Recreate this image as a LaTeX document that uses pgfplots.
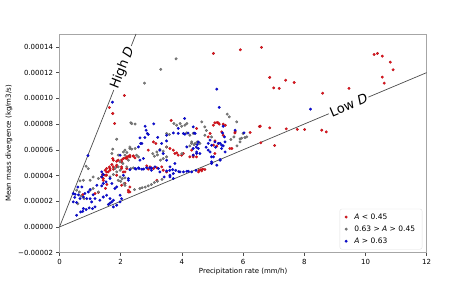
\documentclass[border=0pt]{standalone}
\usepackage{pgfplots}
\pgfplotsset{compat=1.18}
\usepackage{fontspec}
\setmainfont{DejaVu Sans}
\definecolor{mred}{RGB}{235,20,30}
\definecolor{mgray}{RGB}{128,128,128}
\definecolor{mblue}{RGB}{10,10,230}
\begin{document}
\begin{tikzpicture}
\path (-59.5pt,-31.3pt) rectangle (414.5pt,252.7pt);
\begin{axis}[
  at={(0,0)}, anchor=south west,
  scale only axis, width=367.2pt, height=218.7pt,
  xmin=0, xmax=12, ymin=-2e-5, ymax=1.5e-4,
  xtick={0,2,4,6,8,10,12},
  ytick={-2e-5,0,2e-5,4e-5,6e-5,8e-5,1e-4,1.2e-4,1.4e-4},
  yticklabels={−0.00002,0.00000,0.00002,0.00004,0.00006,0.00008,0.00010,0.00012,0.00014},
  scaled y ticks=false,
  /pgf/number format/assume math mode=true,
  xtick pos=bottom, ytick pos=left,
  tick align=outside, major tick length=3pt,
  tick style={black!70, line width=0.5pt},
  axis line style={black!35, line width=0.8pt},
  tick label style={font=\fontsize{7}{8}\selectfont},
  label style={font=\fontsize{7}{8}\selectfont},
  xlabel={Precipitation rate (mm/h)},
  ylabel={Mean mass divergence (kg/m3/s)},
  xlabel style={yshift=3pt},
  ylabel style={yshift=-1pt},
  legend cell align=left,
  legend style={at={(0.988,0.015)}, anchor=south east, draw=black!12, rounded corners=2pt,
    font=\fontsize{7.5}{9}\selectfont, inner xsep=5pt, inner ysep=2.5pt, row sep=1pt,
    /tikz/every odd column/.append style={column sep=5pt}},
]
\addplot[only marks, mark=*, mark size=1.3pt, mark options={fill=mred, draw=mred!75!black, line width=0.3pt}] coordinates {
(5.03,13.49e-5)(5.91,13.77e-5)(6.60,13.96e-5)(6.87,11.62e-5)(7.00,10.81e-5)(7.18,10.77e-5)(7.39,11.41e-5)(7.67,11.23e-5)
(8.60,10.40e-5)(9.46,10.77e-5)(10.28,13.41e-5)(10.39,13.49e-5)(10.55,13.28e-5)(10.81,12.81e-5)(10.90,12.22e-5)(10.55,11.65e-5)
(10.61,11.18e-5)(6.53,7.81e-5)(6.87,7.70e-5)(7.41,7.62e-5)(7.77,7.58e-5)(8.01,7.58e-5)(8.57,7.52e-5)(8.72,7.39e-5)
(6.23,7.34e-5)(5.63,6.10e-5)(5.73,7.31e-5)(6.58,6.54e-5)(7.03,6.33e-5)
(2.12,10.22e-5)(1.63,9.29e-5)(1.74,8.82e-5)(1.80,8.04e-5)
(3.65,8.28e-5)(5.08,8.10e-5)(5.15,8.12e-5)(5.22,7.99e-5)(5.35,7.99e-5)(5.42,7.90e-5)(5.03,7.91e-5)(5.19,8.09e-5)(4.48,7.66e-5)
(5.30,7.39e-5)(5.35,7.13e-5)(4.92,7.27e-5)(4.86,7.00e-5)
(3.07,6.61e-5)(3.15,6.49e-5)(2.90,5.97e-5)
(3.50,6.22e-5)(3.61,6.10e-5)(3.72,5.97e-5)(3.83,5.76e-5)(3.88,5.58e-5)(3.77,5.71e-5)(4.05,5.71e-5)(3.99,5.58e-5)(4.32,5.97e-5)
(5.08,6.69e-5)(5.19,6.49e-5)(5.03,6.36e-5)(5.14,6.28e-5)(5.57,6.10e-5)(5.08,5.71e-5)
(4.26,5.45e-5)(4.37,5.45e-5)(4.37,5.58e-5)(4.48,5.45e-5)
(4.56,4.40e-5)(4.62,4.45e-5)(4.68,4.50e-5)(4.75,4.47e-5)(4.54,4.28e-5)(4.65,4.36e-5)
(2.03,5.20e-5)(2.15,5.35e-5)(2.25,5.50e-5)(2.30,5.45e-5)(2.41,5.52e-5)(2.47,5.37e-5)(2.20,5.32e-5)(1.76,5.19e-5)(1.87,5.11e-5)
(1.54,4.54e-5)(1.63,4.67e-5)(1.71,4.85e-5)(2.03,4.54e-5)(2.14,4.28e-5)(2.08,4.28e-5)(2.20,4.54e-5)(2.03,4.67e-5)
(2.85,4.75e-5)(2.96,4.67e-5)(3.07,4.54e-5)(2.90,4.50e-5)(3.18,4.60e-5)(3.34,4.67e-5)(3.39,4.41e-5)(3.50,4.28e-5)
(1.41,4.08e-5)(1.54,4.02e-5)(1.87,4.02e-5)(1.43,3.77e-5)(1.59,4.28e-5)(1.49,4.41e-5)(1.65,4.54e-5)(1.76,4.49e-5)(1.87,4.67e-5)
(1.16,2.60e-5)(1.27,2.68e-5)(0.76,2.52e-5)(2.25,2.86e-5)(2.30,2.72e-5)(3.18,3.63e-5)
(1.38,3.89e-5)(1.43,3.63e-5)(1.49,4.02e-5)(1.54,4.28e-5)(1.65,4.41e-5)(1.76,4.67e-5)(1.87,4.80e-5)(1.92,5.19e-5)
(2.03,5.06e-5)(2.09,5.32e-5)(2.20,5.45e-5)(2.30,5.58e-5)(2.41,5.50e-5)(1.74,5.32e-5)(2.30,3.11e-5)(2.25,2.72e-5)
(2.03,3.24e-5)(2.14,3.38e-5)(1.50,3.00e-5)(1.55,3.30e-5)(5.74,7.39e-5)(6.56,7.83e-5)
};
\addlegendentry{\textit{A} < 0.45}
\addplot[only marks, mark=*, mark size=1.3pt, mark options={fill=mgray, draw=mgray!75!black, line width=0.3pt}] coordinates {
(3.81,13.07e-5)(3.31,12.25e-5)(2.78,11.18e-5)(2.33,8.10e-5)(2.47,8.00e-5)(2.36,8.04e-5)(0.87,4.72e-5)
(3.74,8.04e-5)(3.83,7.91e-5)(3.94,8.04e-5)(3.99,7.83e-5)(4.10,7.91e-5)(4.16,8.04e-5)(4.65,8.17e-5)(4.75,7.78e-5)
(5.48,8.77e-5)(5.55,8.56e-5)(5.79,8.17e-5)
(3.50,7.27e-5)(3.59,7.19e-5)(4.16,7.31e-5)(4.26,7.13e-5)(4.37,7.27e-5)(4.75,7.13e-5)(4.97,7.00e-5)
(4.32,6.61e-5)(4.43,6.49e-5)(4.50,6.61e-5)(4.59,6.49e-5)(4.26,6.30e-5)(4.40,6.40e-5)(4.32,6.49e-5)
(5.60,6.80e-5)(5.90,6.85e-5)(5.95,6.90e-5)(6.06,6.95e-5)(5.70,7.00e-5)(5.90,6.61e-5)(5.80,6.30e-5)(6.00,7.27e-5)(6.12,7.00e-5)
(3.50,6.22e-5)(3.18,5.83e-5)(3.28,6.02e-5)(3.39,5.90e-5)(3.05,5.70e-5)(3.10,5.50e-5)(3.20,5.60e-5)(3.30,5.19e-5)(3.39,5.32e-5)(3.50,5.45e-5)
(1.87,6.82e-5)(1.74,6.05e-5)(2.30,6.10e-5)(2.36,6.05e-5)(2.09,5.83e-5)(2.20,5.79e-5)(2.14,5.58e-5)(2.52,5.58e-5)(2.58,5.45e-5)
(1.98,5.06e-5)(2.07,4.93e-5)(2.25,5.19e-5)(1.92,4.67e-5)(1.81,4.54e-5)(2.20,4.67e-5)(2.33,4.54e-5)(2.41,4.59e-5)
(1.76,4.08e-5)(1.65,3.89e-5)(1.98,3.89e-5)(2.14,3.81e-5)(2.00,3.55e-5)(2.05,3.75e-5)(1.87,4.28e-5)(1.98,4.41e-5)(1.92,3.63e-5)
(1.00,2.86e-5)(1.10,2.99e-5)(1.27,2.72e-5)(0.56,2.86e-5)(0.65,2.72e-5)(1.10,3.89e-5)(1.00,3.63e-5)(1.27,3.77e-5)
(0.78,3.63e-5)(0.94,4.54e-5)(0.67,3.58e-5)(0.70,2.40e-5)(0.80,2.20e-5)(0.60,1.80e-5)
(2.14,3.24e-5)(2.11,3.38e-5)(2.63,2.99e-5)(2.70,3.05e-5)(2.80,3.10e-5)(2.90,3.20e-5)(3.00,3.30e-5)(3.10,3.45e-5)
(3.20,3.55e-5)(3.35,3.70e-5)(2.45,2.90e-5)
(1.71,5.71e-5)(1.92,5.58e-5)(2.14,5.97e-5)(2.30,6.22e-5)(2.47,6.10e-5)(4.80,7.50e-5)(4.00,5.70e-5)
};
\addlegendentry{0.63 > \textit{A} > 0.45}
\addplot[only marks, mark=*, mark size=1.3pt, mark options={fill=mblue, draw=mblue!75!black, line width=0.3pt}] coordinates {
(5.14,10.71e-5)(5.22,9.29e-5)(8.20,9.16e-5)(1.73,9.70e-5)(2.80,7.83e-5)(3.08,8.01e-5)(4.09,8.43e-5)(0.93,5.55e-5)
(3.88,7.66e-5)(4.05,7.27e-5)(4.20,7.30e-5)(4.40,7.30e-5)(4.37,7.78e-5)(2.87,7.27e-5)(2.79,6.96e-5)(2.63,6.92e-5)
(3.21,6.96e-5)(3.34,6.49e-5)(3.50,6.69e-5)(2.69,6.49e-5)(2.83,7.52e-5)(2.90,7.19e-5)(2.65,6.49e-5)(2.58,6.22e-5)
(1.98,5.58e-5)(2.74,5.32e-5)(2.63,5.19e-5)
(3.50,7.13e-5)(3.72,7.31e-5)(3.88,7.27e-5)(4.10,7.21e-5)(4.43,7.27e-5)(5.35,7.83e-5)(5.33,7.31e-5)(5.39,7.00e-5)(6.03,7.31e-5)(5.74,7.52e-5)
(4.47,6.20e-5)(4.54,6.60e-5)(4.50,6.40e-5)(4.79,6.20e-5)(4.86,6.50e-5)(4.97,6.35e-5)(5.10,6.20e-5)(5.25,6.50e-5)
(5.35,6.30e-5)(4.92,6.75e-5)(5.08,6.61e-5)(5.19,6.49e-5)(5.30,6.36e-5)(5.41,6.61e-5)(4.86,5.97e-5)(5.41,5.83e-5)
(5.30,6.10e-5)(4.54,6.10e-5)(4.48,5.71e-5)(4.37,5.58e-5)(4.97,5.45e-5)(5.25,5.19e-5)(4.37,6.10e-5)(4.48,5.83e-5)
(4.59,5.71e-5)(4.92,5.83e-5)(5.03,5.45e-5)(4.97,5.06e-5)(5.14,4.80e-5)(4.16,6.22e-5)(3.28,5.97e-5)(3.39,5.71e-5)
(3.50,5.19e-5)(3.77,4.93e-5)(3.61,4.67e-5)
(2.30,4.45e-5)(2.50,4.50e-5)(2.60,4.55e-5)(2.75,4.50e-5)(2.85,4.60e-5)(2.95,4.60e-5)(2.47,4.54e-5)(2.58,4.59e-5)
(2.69,4.49e-5)(3.01,4.59e-5)(3.12,4.67e-5)(3.23,4.54e-5)
(3.50,4.35e-5)(3.60,4.40e-5)(3.70,4.45e-5)(3.80,4.40e-5)(3.90,4.30e-5)(4.05,4.28e-5)(4.21,4.33e-5)(4.32,4.28e-5)
(4.46,4.40e-5)(3.72,4.15e-5)(3.61,4.02e-5)(3.42,3.89e-5)(3.61,3.89e-5)(3.72,3.77e-5)
(2.25,3.63e-5)(2.09,4.02e-5)(2.25,3.77e-5)(1.38,3.89e-5)(1.38,4.28e-5)(1.43,4.08e-5)
(1.65,3.77e-5)(1.71,3.38e-5)(1.81,2.99e-5)(1.87,3.11e-5)(1.22,3.24e-5)(1.38,3.19e-5)(1.43,3.38e-5)(1.52,3.50e-5)
(1.00,2.20e-5)(1.05,1.95e-5)(1.16,2.20e-5)(1.32,2.08e-5)(1.43,2.33e-5)(1.54,2.47e-5)(1.65,2.20e-5)(1.71,1.95e-5)
(1.76,2.08e-5)(1.87,1.69e-5)(1.76,1.56e-5)(1.98,1.95e-5)(1.98,2.47e-5)(2.03,2.20e-5)(1.60,1.75e-5)(1.65,1.85e-5)
(0.56,0.91e-5)(0.78,1.43e-5)(0.87,1.35e-5)(0.97,1.48e-5)(1.08,1.43e-5)(1.16,1.56e-5)(0.56,1.90e-5)(0.45,1.95e-5)
(0.67,2.20e-5)(0.78,2.33e-5)(0.89,2.20e-5)(0.83,2.60e-5)(0.94,2.72e-5)(0.45,2.60e-5)(0.51,2.54e-5)(0.60,3.10e-5)
(0.73,3.11e-5)(1.00,2.91e-5)(0.69,1.17e-5)(0.76,1.22e-5)(0.50,2.30e-5)(0.62,2.50e-5)(1.10,2.50e-5)
(4.97,4.93e-5)(5.25,5.24e-5)(3.00,4.41e-5)(3.28,4.28e-5)(3.94,4.28e-5)(4.16,4.33e-5)
};
\addlegendentry{\textit{A} > 0.63}
\addplot[black!70, line width=0.7pt, forget plot] coordinates {(0,0)(12,12e-5)};
\addplot[black!70, line width=0.7pt, forget plot] coordinates {(0,0)(2.5,15e-5)};
\node[rotate=68.4, fill=white, inner sep=1.5pt, font=\fontsize{13}{15}\selectfont] at (axis cs:2.06,12.36e-5) {High \textit{D}};
\node[rotate=22.8, fill=white, inner sep=1.5pt, font=\fontsize{13}{15}\selectfont] at (axis cs:9.45,9.45e-5) {Low \textit{D}};
\end{axis}
\end{tikzpicture}
\end{document}
